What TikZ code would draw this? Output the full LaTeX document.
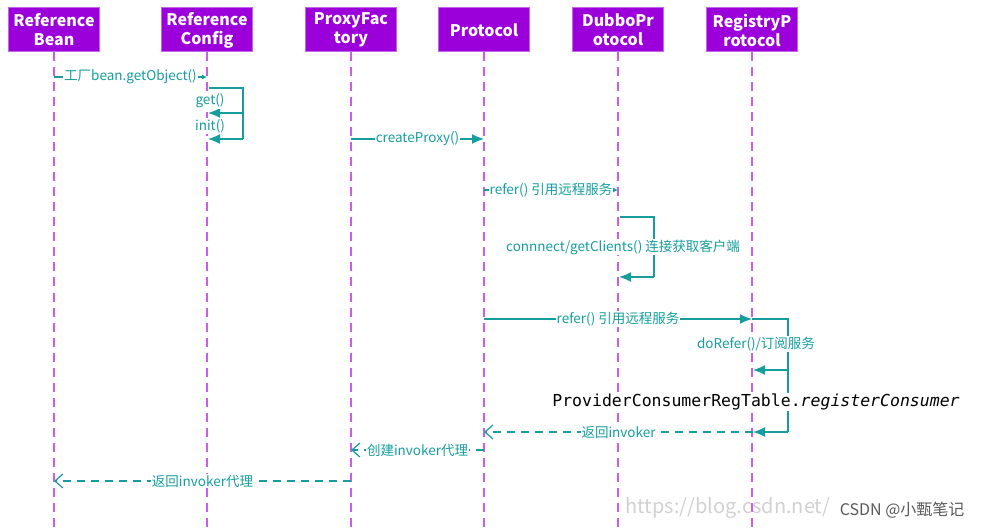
\documentclass[tikz,border=0pt]{standalone}
\usepackage{fontspec}
\setmainfont{Noto Sans CJK SC}
\newfontfamily\monofont{DejaVu Sans Mono}
\usetikzlibrary{arrows.meta}
\definecolor{boxpurple}{HTML}{9B00DB}
\definecolor{lifeviolet}{HTML}{CC5CEE}
\definecolor{msgteal}{HTML}{169E9E}
\tikzset{
 actor/.style={fill=boxpurple, draw=boxpurple!60!white, line width=1pt, minimum width=91pt, minimum height=44pt, inner sep=0pt, text=white, font=\bfseries\fontsize{16}{19}\selectfont, align=center},
 lifeline/.style={lifeviolet, line width=2pt, dash pattern=on 9pt off 6pt},
 msg/.style={msgteal, line width=1.4pt, -{Latex[length=12pt,width=10pt]}},
 smallmsg/.style={msgteal, line width=1.4pt, -{Latex[length=5pt,width=5pt]}},
 selfline/.style={msgteal, line width=1.8pt},
 ret/.style={msgteal, line width=1.4pt, dash pattern=on 8pt off 6pt, -{Straight Barb[length=8pt,width=14pt,line width=1.2pt]}},
 lbl/.style={text=msgteal, font=\fontsize{13.5}{15}\selectfont, fill=white, inner sep=1pt},
 monolbl/.style={text=black, font=\monofont\fontsize{16.5}{18}\selectfont, fill=white, inner sep=1pt},
}
\begin{document}
\begin{tikzpicture}[x=1pt,y=-1pt]
\useasboundingbox (0,0) rectangle (982,529);
% actors
\node[actor] (rb) at (54,30) {Reference\\Bean};
\node[actor] (rc) at (207,30) {Reference\\Config};
\node[actor] (pf) at (351,30) {ProxyFac\\tory};
\node[actor] (pr) at (484,30) {Protocol};
\node[actor] (dp) at (618,30) {DubboPr\\otocol};
\node[actor] (rp) at (752,30) {RegistryP\\rotocol};
% lifeline ends
\coordinate (rbE) at (54,529);
\coordinate (rcE) at (207,529);
\coordinate (pfE) at (351,529);
\coordinate (prE) at (484,529);
\coordinate (dpE) at (618,529);
\coordinate (rpE) at (752,529);
\draw[lifeline] (rb.south) -- (rbE);
\draw[lifeline] (rc.south) -- (rcE);
\draw[lifeline] (pf.south) -- (pfE);
\draw[lifeline] (pr.south) -- (prE);
\draw[lifeline] (dp.south) -- (dpE);
\draw[lifeline] (rp.south) -- (rpE);
% message points
\coordinate (m1a) at (54,77);  \coordinate (m1b) at (207,77);
\coordinate (s1a) at (209,88); \coordinate (s1r) at (243,88);
\coordinate (s1m) at (243,113); \coordinate (s1g) at (208,113);
\coordinate (s1e) at (243,139); \coordinate (s1i) at (208,139);
\coordinate (m2a) at (351,139); \coordinate (m2b) at (484,139);
\coordinate (m3a) at (484,190); \coordinate (m3b) at (618,190);
\coordinate (s2a) at (620,217); \coordinate (s2r) at (654,217);
\coordinate (s2e) at (654,277); \coordinate (s2b) at (619,277);
\coordinate (m4a) at (484,319); \coordinate (m4b) at (752,319);
\coordinate (s3r) at (788,319);
\coordinate (s3m) at (788,370); \coordinate (s3g) at (753,370);
\coordinate (s3e) at (788,432); \coordinate (s3b) at (753,432);
\coordinate (r1b) at (484,432);
\coordinate (r2a) at (484,450); \coordinate (r2b) at (351,450);
\coordinate (r3a) at (351,481); \coordinate (r3b) at (54,481);
% messages
\draw[smallmsg] (m1a) -- (m1b) node[midway, lbl] {工厂bean.getObject()};
\draw[selfline] (s1a) -- (s1r) -- (s1e);
\draw[msg] (s1m) -- (s1g);
\draw[msg] (s1e) -- (s1i);
\node[lbl] (lget) at (210,101) {get()};
\node[lbl] (linit) at (210,126) {init()};
\draw[msg] (m2a) -- (m2b) node[midway, lbl] {createProxy()};
\draw[smallmsg] (m3a) -- (m3b) node[midway, lbl] {refer() 引用远程服务};
\draw[selfline] (s2a) -- (s2r) -- (s2e);
\draw[msg] (s2e) -- (s2b);
\node[lbl] (lconn) at (623,247) {connnect/getClients() 连接获取客户端};
\draw[msg] (m4a) -- (m4b) node[midway, lbl] {refer() 引用远程服务};
\draw[selfline] (m4b) -- (s3r) -- (s3e);
\draw[msg] (s3m) -- (s3g);
\draw[msg] (s3e) -- (s3b);
\node[lbl] (ldo) at (756,344) {doRefer()/订阅服务};
\node[monolbl] (lreg) at (756,402) {ProviderConsumerRegTable.{\itshape registerConsumer}};
\draw[ret] (s3b) -- (r1b) node[midway, lbl] {返回invoker};
\draw[ret] (r2a) -- (r2b) node[midway, lbl] {创建invoker代理};
\draw[ret] (r3a) -- (r3b) node[midway, lbl] {返回invoker代理};
% watermark
\node[text=black!18, font=\fontsize{20}{22}\selectfont, anchor=west] (wurl) at (622,508) {https://blog.csdn.net/};
\node[text=black!65, font=\fontsize{16}{18}\selectfont, anchor=east] (wcsdn) at (968,510) {CSDN @小甄笔记};
\end{tikzpicture}
\end{document}
